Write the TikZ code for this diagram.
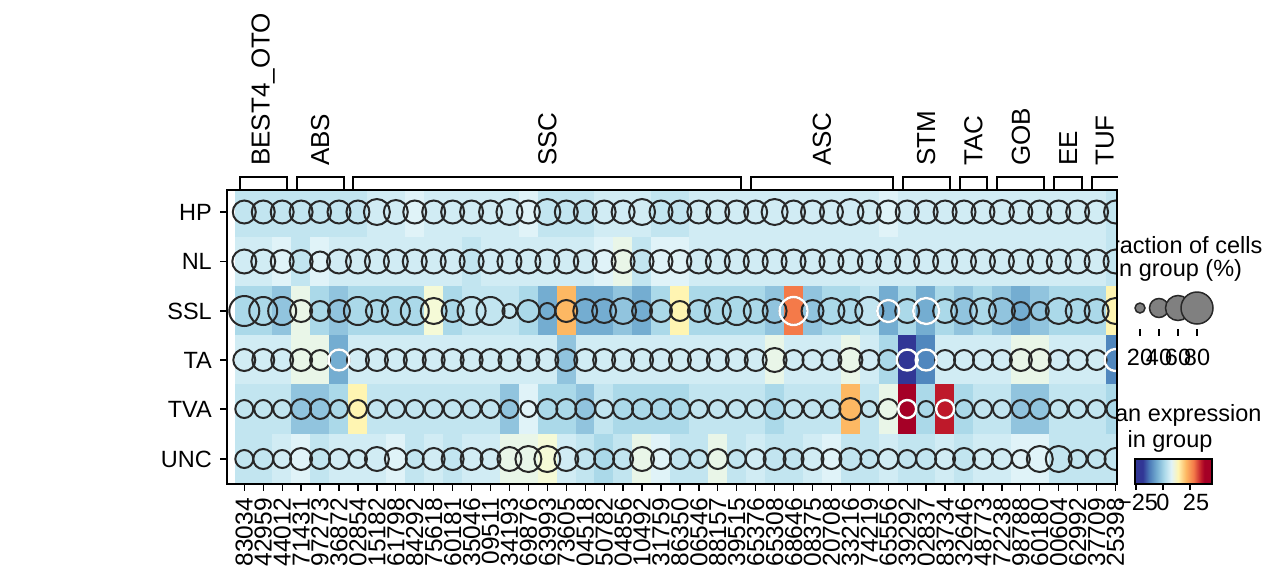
\documentclass[tikz,border=0pt]{standalone}
\usepackage{fontspec}
\setmainfont{Liberation Sans}
\definecolor{ca}{RGB}{224,243,248}
\definecolor{cb}{RGB}{209,236,244}
\definecolor{cc}{RGB}{194,229,240}
\definecolor{cd}{RGB}{171,217,233}
\definecolor{ce}{RGB}{145,196,222}
\definecolor{cf}{RGB}{116,173,209}
\definecolor{cg}{RGB}{80,135,190}
\definecolor{ch}{RGB}{49,54,149}
\definecolor{cw}{RGB}{233,246,232}
\definecolor{cz}{RGB}{245,250,215}
\definecolor{cy}{RGB}{255,245,178}
\definecolor{co}{RGB}{253,184,99}
\definecolor{cr}{RGB}{244,122,73}
\definecolor{cR}{RGB}{165,0,38}
\definecolor{cq}{RGB}{190,25,42}
\definecolor{ring}{RGB}{40,40,40}
\definecolor{dotgray}{RGB}{128,128,128}
\pgfdeclarehorizontalshading{rdylbu}{100bp}{color(0bp)=(ch); color(25bp)=(ch); color(30bp)=(ch); color(34bp)=(cg!80!ch); color(39bp)=(cf); color(44bp)=(cd); color(48.5bp)=(ca); color(53bp)=(cy); color(58bp)=(co); color(63bp)=(cr); color(68bp)=(cq); color(70bp)=(cR); color(75bp)=(cR); color(100bp)=(cR)}
\tikzset{
  lbl/.style={font=\fontsize{23.5}{26}\selectfont, inner sep=0pt},
  collbl/.style={font=\fontsize{24.5}{26}\selectfont, inner sep=0pt, rotate=90, anchor=east},
  grplbl/.style={font=\fontsize{26}{28}\selectfont, inner sep=0pt, rotate=90, anchor=west},
  dot/.style={draw=ring, line width=2pt},
  whitedot/.style={draw=white, line width=2.4pt},
  frame/.style={draw=black, line width=2.4pt},
  brk/.style={draw=black, line width=2pt},
}
\newcommand\dotrow[2]{%
  \foreach \c/\r [count=\i from 0] in {#2} {
    \pgfmathsetmacro\xx{244.3+18.94*\i}
    \fill[c\c] (\xx-9.7,#1-24.9) rectangle (\xx+9.7,#1+24.9);
  }
  \foreach \c/\r [count=\i from 0] in {#2} {
    \pgfmathsetmacro\xx{244.3+18.94*\i}
    \draw[dot] (\xx,#1) circle[radius=\r];
  }}
\begin{document}
\begin{tikzpicture}[x=1pt,y=-1pt]
\useasboundingbox (0,0) rectangle (1262,571);
% legend texts (partly hidden behind plot)
\begin{scope}
\clip (1118,200) rectangle (1262,460);
\node[lbl] (lt1) at (1180,245) {Fraction of cells};
\node[lbl] (lt2) at (1178,270) {in group (\%)};
\node[lbl] (lt3) at (1172,415) {Mean expression};
\node[lbl] (lt4) at (1170,441) {in group};
\end{scope}
% grid
\begin{scope}
\clip (227,190) rectangle (1117,484);
\dotrow{212}{c/11.5,c/11.5,c/11.5,c/11.5,c/11,c/11.5,c/11.5,b/13,b/12,a/11.5,b/11.5,b/11.5,b/11.5,b/11.5,b/13,a/11.5,c/13,c/11.5,c/11.5,b/11.5,b/11.5,b/13,c/11.5,c/11.5,b/11.5,b/11.5,b/11.5,b/11.5,b/13,b/11.5,b/11.5,b/11.5,b/13,b/11.5,a/11.5,b/11.5,b/11.5,b/11.5,b/11.5,b/11.5,b/12,b/11.5,b/11.5,b/11.5,b/11.5,b/11.5,c/11.5}
\dotrow{261.5}{b/12,b/12,a/11.5,c/11.5,a/10,b/12,b/12,b/12,b/12,b/12,b/12,b/12,c/12,b/12,b/12,b/12,b/12,b/12,b/11.5,a/11.5,w/11.5,c/11.5,a/11.5,a/11.5,b/12,b/12,b/12,b/12,b/12,b/12,b/12,b/12,b/12,b/11.5,b/12,b/12,b/12,b/12,b/12,b/12,b/12,b/12,b/12,b/12,b/12,b/12,c/12}
\dotrow{311}{d/15,d/14,e/14,w/11,d/10,e/11,d/14,d/11,d/14,d/14,z/13,d/11,c/14,c/14,c/7,d/11,f/8,o/11,f/12,f/12,e/13,f/10,d/11,y/10,d/11,d/13,d/14,d/12,e/12,r/14,e/11,d/13,d/12,c/14,f/11,d/12,f/13,d/12,e/13,d/13,e/13,f/9,e/9,d/13,d/12,d/12,y/13}
\dotrow{360}{b/11,b/11,b/11,w/11,w/10,f/10.5,b/11,b/11,b/11,b/11,b/11,b/11,b/11,b/11,b/11,b/11,b/11,e/11,b/11,b/11,b/11,b/11,b/11,b/11,b/11,b/11,b/11,b/11,w/12,b/10,b/10,b/10,w/12,b/10,d/10,h/10.5,g/10.5,b/10,b/10,b/10,b/10,w/11,w/11,b/10,b/10,b/10,g/11}
\dotrow{409}{c/9,c/9,c/9,e/10,e/10,d/9,y/9,c/9,c/9,c/9,c/9,c/9,c/9,c/9,e/9,a/8,d/10,d/10,e/10,c/9,d/10,d/10,d/10,d/10,c/9,c/9,c/9,c/9,d/10,c/9,c/9,c/9,o/11,c/8,w/10,R/9,d/8,q/9,d/9,c/9,c/9,e/9,e/10,c/9,c/9,c/9,d/9}
\dotrow{459}{c/9,c/10,b/9,a/11,c/10,b/10,b/9,b/12,a/11,c/9,b/11,c/11,b/11,b/10,w/12,w/13,z/13,b/12,c/10,d/10,c/10,w/12,a/10,c/10,c/9,w/10,c/9,b/10,c/11,c/10,b/11,a/10,c/11,c/9,b/10,c/9,c/10,b/10,c/11,b/10,b/10,a/9,a/13,c/13,c/9,c/9,c/11}
\foreach \i/\yy/\r in {29/311/14,34/311/11,36/311/13,5/360/10.5,35/360/10.5,36/360/10.5,46/360/11,35/409/9,37/409/9}
  \draw[whitedot] ({244.3+18.94*\i},\yy) circle[radius=\r];
\end{scope}
\draw[frame] (227,190) rectangle (1117,484);
% row labels and ticks
\foreach \t/\yy in {HP/212,NL/261.5,SSL/311,TA/360,TVA/409,UNC/459} {
  \draw[line width=1.3pt] (227,\yy) -- (220,\yy);
  \node[lbl, anchor=east] (r\t) at (212,\yy) {\t};
}
% column labels and ticks
\foreach \t [count=\i from 0] in {83034,42959,44012,71431,97273,36872,02854,15182,61798,84292,75618,60181,35046,09511,34193,69876,63993,73605,04518,50782,04856,10492,31759,86350,06546,88157,39515,65376,65308,68646,08375,20708,33216,74219,65556,39292,02837,83734,32646,48773,72238,98788,60180,00604,62992,37709,25398} {
  \pgfmathsetmacro\xx{244.3+18.94*\i}
  \draw[line width=1.3pt] (\xx,484) -- (\xx,491);
  \node[collbl] (c\i) at (\xx,498) {\t};
}
% group brackets
\foreach \a/\b/\t in {0/2/BEST4\_OTO,3/5/ABS,6/26/SSC,27/34/ASC,35/37/STM,38/39/TAC,40/42/GOB,43/44/EE,45/47/TUF} {
  \pgfmathsetmacro\xa{244.3+18.94*\a-4.5}
  \pgfmathsetmacro\xb{min(244.3+18.94*\b+4.5,1118)}
  \pgfmathsetmacro\xm{(244.3+18.94*\a+min(244.3+18.94*\b,1113))/2}
  \ifnum\b=47
    \draw[brk] (\xa,190) -- (\xa,177) -- (\xb,177);
  \else
    \draw[brk] (\xa,190) -- (\xa,177) -- (\xb,177) -- (\xb,190);
  \fi
  \node[grplbl] (g\a) at (\xm,166) {\t};
}
% size legend
\foreach \xx/\r/\t in {1140/5/20,1159/9.5/40,1178/12.5/60,1197/16/80} {
  \draw[fill=dotgray, draw=ring, line width=1.5pt] (\xx,308) circle[radius=\r];
  \draw[line width=1.3pt] (\xx,329) -- (\xx,336);
}
\node[lbl] (s20) at (1140,357) {20};
\node[lbl] (s40) at (1159,357) {40};
\node[lbl] (s60) at (1178,357) {60};
\node[lbl] (s80) at (1197,357) {80};
% colour bar
\shade[shading=rdylbu] (1135,459) rectangle (1212,484);
\draw[line width=1.5pt] (1135,459) rectangle (1212,484);
\foreach \xx in {1136,1163,1190} \draw[line width=1.3pt] (\xx,484) -- (\xx,490);
\node[lbl] (cb1) at (1138,502) {−25};
\node[lbl] (cb2) at (1163,502) {0};
\node[lbl] (cb3) at (1196,502) {25};
\end{tikzpicture}
\end{document}
